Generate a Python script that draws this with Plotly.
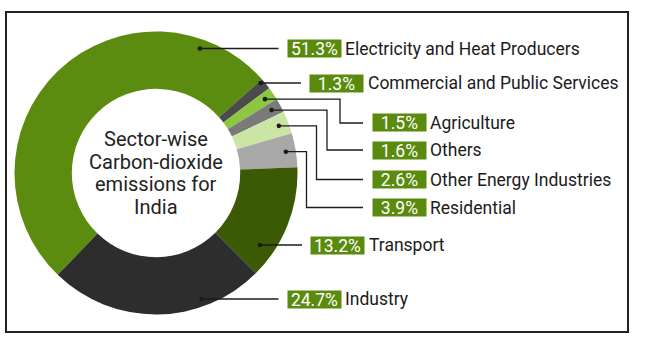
import math
import plotly.graph_objects as go

# Sector shares of India's CO2 emissions (%), in clockwise drawing order
sectors = [
    "Electricity and Heat Producers",
    "Commercial and Public Services",
    "Agriculture",
    "Others",
    "Other Energy Industries",
    "Residential",
    "Transport",
    "Industry",
]
shares = [51.3, 1.3, 1.5, 1.6, 2.6, 3.9, 13.2, 24.7]
slice_colors = [
    "#5b8b0f", "#4b4b4b", "#8dc640", "#7a7a7a",
    "#cbe5a4", "#a8a8a8", "#3c5a06", "#2d2d2d",
]
center_lines = ["Sector-wise", "Carbon-dioxide", "emissions for", "India"]

W, H = 645, 338
CX, CY, R = 156.0, 173.0, 141.5
HOLE = 0.595
ROTATION = -136.0
BOX_GREEN = "#5a8a0e"
INK = "#1b1b1b"
LABEL_SIZE = 17.5

# Callout layout per sector: label row (y), box left edge, elbow x (None = straight),
# and how far out along the radius the anchor dot sits
callouts = {
    "Electricity and Heat Producers": dict(row=48.5, box=286.5, elbow=None, rdot=0.933),
    "Commercial and Public Services": dict(row=83.0, box=309.0, elbow=None, rdot=0.975),
    "Agriculture": dict(row=123.0, box=371.5, elbow=340.0, rdot=0.93),
    "Others": dict(row=150.0, box=371.5, elbow=327.0, rdot=0.93),
    "Other Energy Industries": dict(row=179.5, box=371.5, elbow=316.5, rdot=0.93),
    "Residential": dict(row=207.5, box=371.5, elbow=306.5, rdot=0.93),
    "Transport": dict(row=245.0, box=310.0, elbow=None, rdot=0.894),
    "Industry": dict(row=299.0, box=286.5, elbow=None, rdot=0.947),
}


def px(x):
    return x / W


def py(y):
    return 1 - y / H


fig = go.Figure()
fig.add_trace(
    go.Pie(
        labels=sectors,
        values=shares,
        sort=False,
        direction="clockwise",
        rotation=ROTATION,
        hole=HOLE,
        marker=dict(colors=slice_colors, line=dict(width=0)),
        textinfo="none",
        hoverinfo="label+percent",
        showlegend=False,
        domain=dict(
            x=[px(CX - R), px(CX + R)],
            y=[py(CY + R), py(CY - R)],
        ),
    )
)

shapes = []
annotations = []

total = sum(shares)
start = ROTATION
for name, val in zip(sectors, shares):
    span = val / total * 360.0
    mid = math.radians(start + span / 2)
    start += span
    c = callouts[name]
    r = c["rdot"] * R
    if c["elbow"] is None:
        # anchor dot sits on the label row, inside the slice
        dy = c["row"] - CY
        dx = math.sqrt(max(r * r - dy * dy, 0.0))
        dot_x, dot_y = CX + dx, c["row"]
        pts = [(dot_x, dot_y), (c["box"] - 8, dot_y)]
    else:
        dot_x = CX + r * math.sin(mid)
        dot_y = CY - r * math.cos(mid)
        pts = [(dot_x, dot_y), (c["elbow"], dot_y), (c["elbow"], c["row"]), (c["box"] - 8.5, c["row"])]

    path = "M " + " L ".join(f"{px(x):.5f},{py(y):.5f}" for x, y in pts)
    shapes.append(dict(type="path", xref="paper", yref="paper", path=path,
                       line=dict(color=INK, width=1.3)))
    shapes.append(dict(type="circle", xref="paper", yref="paper",
                       x0=px(dot_x - 2.3), x1=px(dot_x + 2.3),
                       y0=py(dot_y + 2.3), y1=py(dot_y - 2.3),
                       fillcolor=INK, line=dict(width=0)))

    box_w = 53
    annotations.append(dict(
        x=px(c["box"]), y=py(c["row"]), xref="paper", yref="paper",
        xanchor="left", yanchor="middle", showarrow=False,
        text=f"{val:.1f}%", width=box_w, height=17, borderpad=0, align="center",
        bgcolor=BOX_GREEN, font=dict(family="Roboto", size=LABEL_SIZE, color="#ffffff"),
    ))
    annotations.append(dict(
        x=px(c["box"] + box_w + 3.5), y=py(c["row"]), xref="paper", yref="paper",
        xanchor="left", yanchor="middle", showarrow=False,
        text=name, font=dict(family="Roboto", size=LABEL_SIZE, color=INK),
    ))

# Title inside the donut hole
line_gap = 22.8
for i, t in enumerate(center_lines):
    yc = CY - 1.5 * line_gap + i * line_gap
    annotations.append(dict(
        x=px(CX), y=py(yc), xref="paper", yref="paper",
        xanchor="center", yanchor="middle", showarrow=False,
        text=t, font=dict(family="Roboto", size=20, color="#222222"),
    ))

# Frame around the graphic
shapes.append(dict(type="rect", xref="paper", yref="paper",
                   x0=px(6), x1=px(628), y0=py(332), y1=py(12),
                   line=dict(color="#222222", width=2), fillcolor="rgba(0,0,0,0)"))

fig.update_layout(
    width=W, height=H,
    margin=dict(l=0, r=0, t=0, b=0),
    paper_bgcolor="#ffffff",
    plot_bgcolor="#ffffff",
    shapes=shapes,
    annotations=annotations,
)

fig.write_html("out.html")
